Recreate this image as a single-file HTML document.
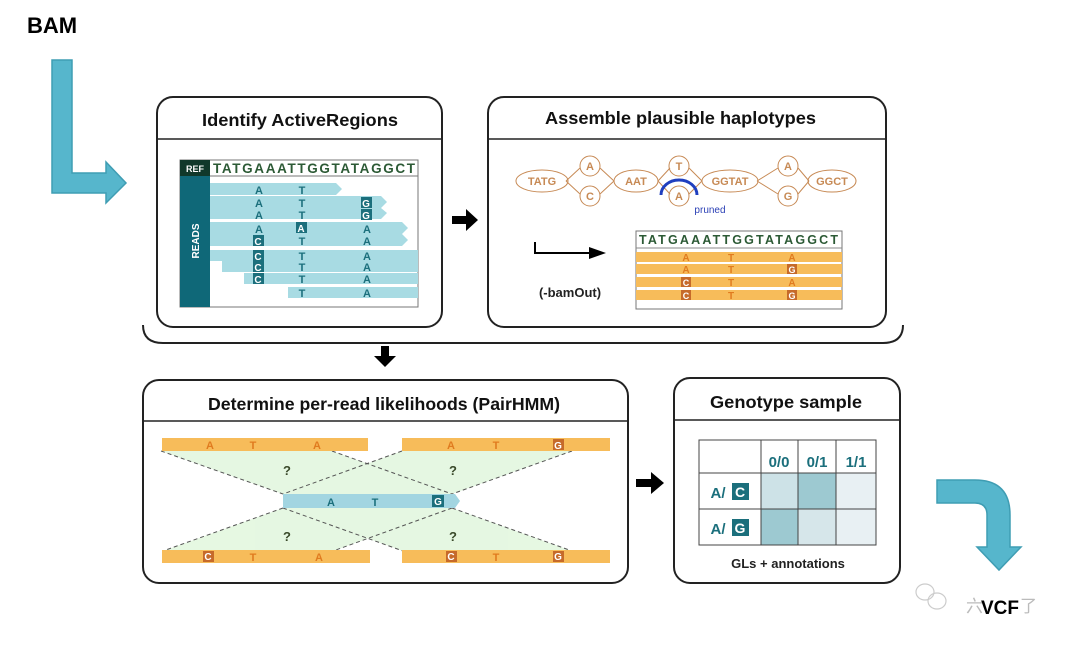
<!DOCTYPE html>
<html><head><meta charset="utf-8"><style>
html,body{margin:0;padding:0;background:#fff;}
svg{display:block;font-family:"Liberation Sans",Arial,sans-serif;}
</style></head><body>
<svg width="1080" height="647" viewBox="0 0 1080 647" xmlns="http://www.w3.org/2000/svg">
<!-- BAM -->
<text x="27" y="33" font-size="22" font-weight="bold" fill="#000">BAM</text>
<path d="M52,60 H72 V173 H106 V162 L126,183 L106,203 V193 H52 Z" fill="#56b6cc" stroke="#3f9db3" stroke-width="1.5"/>

<!-- Box1 -->
<rect x="157" y="97" width="285" height="230" rx="16" fill="#fff" stroke="#222" stroke-width="2"/>
<line x1="157" y1="139" x2="442" y2="139" stroke="#222" stroke-width="1.5"/>
<text x="202" y="126" font-size="17.5" font-weight="bold" fill="#111" textLength="196" lengthAdjust="spacingAndGlyphs">Identify ActiveRegions</text>
<rect x="180" y="160" width="238" height="147" fill="#fff" stroke="#777" stroke-width="1"/>
<rect x="180" y="160" width="30" height="16" fill="#10382a"/>
<text x="195" y="172" font-size="9" font-weight="bold" fill="#fff" text-anchor="middle">REF</text>
<rect x="180" y="176" width="30" height="131" fill="#0f6878"/>
<text transform="translate(199,241) rotate(-90)" font-size="10" font-weight="bold" fill="#fff" text-anchor="middle">READS</text>
<line x1="210" y1="176" x2="418" y2="176" stroke="#777"/>
<text x="213" y="173" font-size="13.5" font-weight="bold" fill="#2c5a35" textLength="203" letter-spacing="1">TATGAAATTGGTATAGGCT</text>
<g fill="#a8dbe3">
<polygon points="210,183 336,183 342,189 336,195 210,195"/>
<polygon points="210,196 381,196 387,202 381,208 210,208"/>
<polygon points="210,208 381,208 387,213 381,219 210,219"/>
<polygon points="210,222 402,222 408,228 402,234 210,234"/>
<polygon points="210,234 402,234 408,240 402,246 210,246"/>
<rect x="210" y="250" width="208" height="11"/>
<rect x="222" y="261" width="196" height="11"/>
<rect x="244" y="273" width="174" height="11"/>
<rect x="288" y="287" width="130" height="11"/>
</g>
<g font-size="11" font-weight="bold" fill="#1b6f7c" text-anchor="middle">
<text x="259" y="194">A</text><text x="302" y="194">T</text>
<text x="259" y="207">A</text><text x="302" y="207">T</text>
<text x="259" y="219">A</text><text x="302" y="219">T</text>
<text x="259" y="233">A</text><text x="367" y="233">A</text>
<text x="302" y="245">T</text><text x="367" y="245">A</text>
<text x="302" y="260">T</text><text x="367" y="260">A</text>
<text x="302" y="271">T</text><text x="367" y="271">A</text>
<text x="302" y="283">T</text><text x="367" y="283">A</text>
<text x="302" y="297">T</text><text x="367" y="297">A</text>
</g>
<g fill="#1b6f7c"><rect x="361" y="197" width="11" height="11"/><rect x="361" y="209" width="11" height="11"/><rect x="296" y="222" width="11" height="11"/>
<rect x="253" y="235" width="11" height="11"/><rect x="253" y="250" width="11" height="11"/><rect x="253" y="261" width="11" height="11"/><rect x="253" y="273" width="11" height="11"/></g>
<g font-size="10" font-weight="bold" fill="#fff" text-anchor="middle">
<text x="366" y="207">G</text><text x="366" y="219">G</text><text x="301" y="232">A</text>
<text x="258" y="245">C</text><text x="258" y="260">C</text><text x="258" y="271">C</text><text x="258" y="283">C</text></g>

<path d="M452,216 H466 V209 L478,220 L466,231 V224 H452 Z" fill="#000"/>

<!-- Box2 -->
<rect x="488" y="97" width="398" height="230" rx="16" fill="#fff" stroke="#222" stroke-width="2"/>
<line x1="488" y1="139" x2="886" y2="139" stroke="#222" stroke-width="1.5"/>
<text x="545" y="124" font-size="17.5" font-weight="bold" fill="#111" textLength="271" lengthAdjust="spacingAndGlyphs">Assemble plausible haplotypes</text>
<g stroke="#c78a55" stroke-width="1" fill="none">
<path d="M566,181 L580,168 M566,181 L580,194 M600,168 L614,181 M600,194 L614,181"/>
<path d="M658,181 L670,168 M658,181 L670,194 M689,168 L702,181 M689,194 L702,181"/>
<path d="M757,181 L778,168 M757,181 L778,194 M798,168 L809,181 M798,194 L809,181"/>
<ellipse cx="542" cy="181" rx="26" ry="11"/><ellipse cx="590" cy="166" rx="10" ry="10"/><ellipse cx="590" cy="196" rx="10" ry="10"/>
<ellipse cx="636" cy="181" rx="22" ry="11"/><ellipse cx="679" cy="166" rx="10" ry="10"/><ellipse cx="679" cy="196" rx="10" ry="10"/>
<ellipse cx="730" cy="181" rx="28" ry="11"/><ellipse cx="788" cy="166" rx="10" ry="10"/><ellipse cx="788" cy="196" rx="10" ry="10"/>
<ellipse cx="832" cy="181" rx="24" ry="11"/>
</g>
<g font-size="11" fill="#c78a55" text-anchor="middle" font-weight="bold">
<text x="542" y="185">TATG</text><text x="590" y="170">A</text><text x="590" y="200">C</text>
<text x="636" y="185">AAT</text><text x="679" y="170">T</text><text x="679" y="200">A</text>
<text x="730" y="185">GGTAT</text><text x="788" y="170">A</text><text x="788" y="200">G</text><text x="832" y="185">GGCT</text></g>
<path d="M661,195 A18,15 0 0 1 697,195" fill="none" stroke="#1f3fbf" stroke-width="3"/>
<text x="710" y="213" font-size="10" fill="#2a3fb5" text-anchor="middle">pruned</text>
<path d="M535,242 V253 H590" fill="none" stroke="#000" stroke-width="2"/>
<polygon points="589,247 606,253 589,259" fill="#000"/>
<text x="570" y="297" font-size="13" font-weight="bold" fill="#222" text-anchor="middle">(-bamOut)</text>
<rect x="636" y="231" width="206" height="78" fill="#fff" stroke="#777"/>
<line x1="636" y1="248" x2="842" y2="248" stroke="#888"/>
<text x="639" y="244" font-size="12.5" font-weight="bold" fill="#2c5a35" textLength="200" letter-spacing="1">TATGAAATTGGTATAGGCT</text>
<g fill="#f7bc5a"><rect x="636" y="252" width="206" height="10"/><rect x="636" y="264" width="206" height="10"/><rect x="636" y="277" width="206" height="10"/><rect x="636" y="290" width="206" height="10"/></g>
<g fill="#c66a2a"><rect x="787" y="264" width="10" height="10"/><rect x="681" y="277" width="10" height="10"/><rect x="681" y="290" width="10" height="10"/><rect x="787" y="290" width="10" height="10"/></g>
<g font-size="10" font-weight="bold" text-anchor="middle" fill="#e07b1f">
<text x="686" y="261">A</text><text x="731" y="261">T</text><text x="792" y="261">A</text>
<text x="686" y="273">A</text><text x="731" y="273">T</text>
<text x="731" y="286">T</text><text x="792" y="286">A</text><text x="731" y="299">T</text></g>
<g font-size="9" font-weight="bold" text-anchor="middle" fill="#fff"><text x="792" y="273">G</text><text x="686" y="286">C</text><text x="686" y="299">C</text><text x="792" y="299">G</text></g>

<!-- bracket -->
<path d="M143,325 Q143,343 163,343 H883 Q903,343 903,325" fill="none" stroke="#222" stroke-width="2"/>
<path d="M381,346 H389 V356 H396 L385,367 L374,356 H381 Z" fill="#000"/>

<!-- Box3 -->
<rect x="143" y="380" width="485" height="203" rx="16" fill="#fff" stroke="#222" stroke-width="2"/>
<line x1="143" y1="421" x2="628" y2="421" stroke="#222" stroke-width="1.5"/>
<text x="208" y="410" font-size="17.5" font-weight="bold" fill="#111" textLength="352" lengthAdjust="spacingAndGlyphs">Determine per-read likelihoods (PairHMM)</text>
<g fill="#e3f7df" opacity="0.9">
<polygon points="161,451 332,451 452,494 283,494"/><polygon points="402,451 572,451 452,494 283,494"/>
<polygon points="283,508 452,508 333,551 163,551"/><polygon points="283,508 452,508 572,551 403,551"/>
</g>
<g stroke="#555" stroke-width="1" stroke-dasharray="4,3" fill="none">
<line x1="161" y1="451" x2="283" y2="494"/><line x1="332" y1="451" x2="452" y2="494"/>
<line x1="402" y1="451" x2="283" y2="494"/><line x1="572" y1="451" x2="452" y2="494"/>
<line x1="283" y1="508" x2="163" y2="551"/><line x1="452" y1="508" x2="333" y2="551"/>
<line x1="283" y1="508" x2="403" y2="551"/><line x1="452" y1="508" x2="572" y2="551"/>
</g>
<g fill="#f7bc5a"><rect x="162" y="438" width="206" height="13"/><rect x="402" y="438" width="208" height="13"/>
<rect x="162" y="550" width="208" height="13"/><rect x="402" y="550" width="208" height="13"/></g>
<polygon points="283,494 455,494 460,501 455,508 283,508" fill="#a2d5e1"/>
<g fill="#c66a2a"><rect x="553" y="439" width="11" height="11"/><rect x="203" y="551" width="11" height="11"/><rect x="446" y="551" width="11" height="11"/><rect x="553" y="551" width="11" height="11"/></g>
<rect x="432" y="495" width="12" height="12" fill="#1b6f7c"/>
<g font-size="11" font-weight="bold" text-anchor="middle" fill="#e07b1f">
<text x="210" y="449">A</text><text x="253" y="449">T</text><text x="317" y="449">A</text>
<text x="451" y="449">A</text><text x="496" y="449">T</text>
<text x="253" y="561">T</text><text x="319" y="561">A</text><text x="496" y="561">T</text></g>
<g font-size="10" font-weight="bold" text-anchor="middle" fill="#fff"><text x="558" y="449">G</text><text x="208" y="560">C</text><text x="451" y="560">C</text><text x="558" y="560">G</text><text x="438" y="505">G</text></g>
<g font-size="11" font-weight="bold" text-anchor="middle" fill="#1b6f7c"><text x="331" y="506">A</text><text x="375" y="506">T</text></g>
<g font-size="13" font-weight="bold" text-anchor="middle" fill="#3a4a2a"><text x="287" y="475">?</text><text x="453" y="475">?</text><text x="287" y="541">?</text><text x="453" y="541">?</text></g>

<path d="M636,479 H651 V472 L664,483 L651,494 V487 H636 Z" fill="#000"/>

<!-- Box4 -->
<rect x="674" y="378" width="226" height="205" rx="16" fill="#fff" stroke="#222" stroke-width="2"/>
<line x1="674" y1="420" x2="900" y2="420" stroke="#222" stroke-width="1.5"/>
<text x="710" y="408" font-size="17.5" font-weight="bold" fill="#111" textLength="152" lengthAdjust="spacingAndGlyphs">Genotype sample</text>
<rect x="761" y="473" width="37" height="36" fill="#cde2e7"/><rect x="798" y="473" width="38" height="36" fill="#9dc9d1"/><rect x="836" y="473" width="40" height="36" fill="#e8f0f3"/>
<rect x="761" y="509" width="37" height="36" fill="#9dc9d1"/><rect x="798" y="509" width="38" height="36" fill="#d6e6ea"/><rect x="836" y="509" width="40" height="36" fill="#e8f0f3"/>
<g stroke="#444" stroke-width="1" fill="none">
<rect x="699" y="440" width="177" height="105"/>
<line x1="699" y1="473" x2="876" y2="473"/><line x1="699" y1="509" x2="876" y2="509"/>
<line x1="761" y1="440" x2="761" y2="545"/><line x1="798" y1="440" x2="798" y2="545"/><line x1="836" y1="440" x2="836" y2="545"/></g>
<g font-size="15" font-weight="bold" fill="#1b6f7c" text-anchor="middle">
<text x="779" y="467">0/0</text><text x="817" y="467">0/1</text><text x="856" y="467">1/1</text>
<text x="718" y="498">A/</text><text x="718" y="534">A/</text></g>
<rect x="732" y="483" width="17" height="17" fill="#1b6f7c"/><rect x="732" y="519" width="17" height="17" fill="#1b6f7c"/>
<g font-size="14" font-weight="bold" fill="#fff" text-anchor="middle"><text x="740" y="497">C</text><text x="740" y="533">G</text></g>
<text x="788" y="568" font-size="13" font-weight="bold" fill="#222" text-anchor="middle">GLs + annotations</text>

<!-- VCF arrow -->
<path d="M937,480 H975 Q1010,480 1010,515 V547 H1021 L999,570 L977,547 H987 V515 Q987,503 975,503 H937 Z" fill="#56b6cc" stroke="#3f9db3" stroke-width="1.5"/>
<g fill="none" stroke="#ccc" stroke-width="1.2"><ellipse cx="925" cy="592" rx="9" ry="8"/><ellipse cx="937" cy="601" rx="9" ry="8"/></g>
<text x="966" y="612" font-size="17" fill="#bbb">六</text><text x="1020" y="612" font-size="17" fill="#bbb">了</text>
<text x="1000" y="614" font-size="19" font-weight="bold" fill="#000" text-anchor="middle">VCF</text>
</svg>
</body></html>
